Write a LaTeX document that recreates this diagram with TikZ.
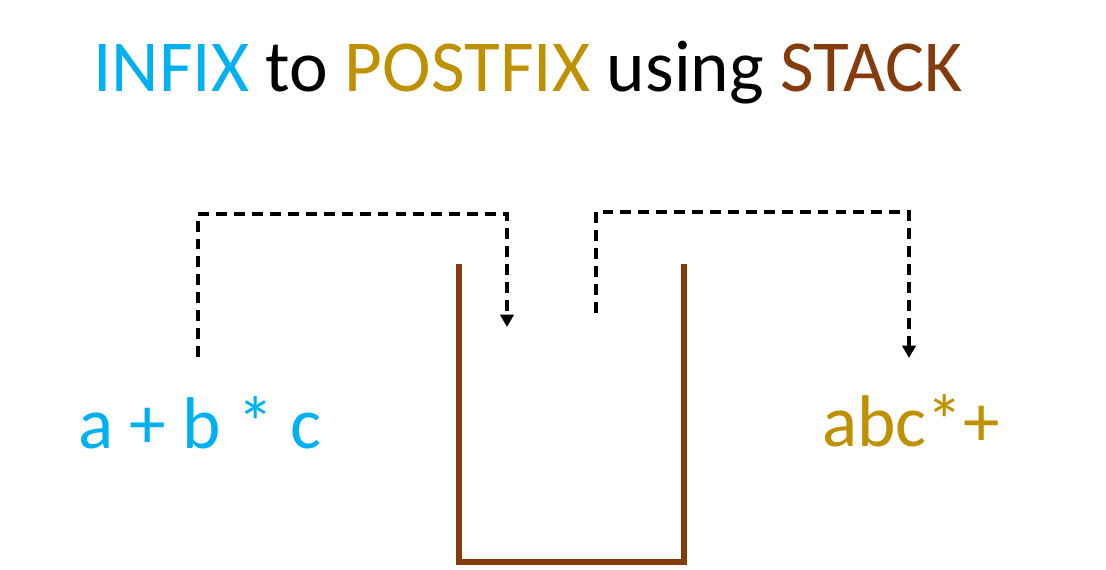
\documentclass[tikz,border=0pt]{standalone}
\usepackage{fontspec}
\setmainfont{Carlito}
\usepackage{xcolor}
\usetikzlibrary{positioning,arrows.meta}
\definecolor{infixblue}{HTML}{00B0F0}
\definecolor{postgold}{HTML}{BF9000}
\definecolor{stackbrown}{HTML}{843C0C}

\begin{document}
\begin{tikzpicture}[
  x=0.02cm, y=-0.02cm,
  font=\fontsize{41.7pt}{50pt}\selectfont,
  txt/.style={inner sep=0pt, outer sep=0pt},
  flow/.style={
    draw=black, line width=2.1pt, dash pattern=on 6.2pt off 4pt,
    -{Triangle[length=7pt,width=7.5pt]}
  },
  wall/.style={draw=stackbrown, line width=3.4pt}
]
\useasboundingbox (0,0) rectangle (1106,570);

\node[txt, anchor=base] (title) at (528,92)
  {\textcolor{infixblue}{INFIX} to \textcolor{postgold}{POSTFIX} using \textcolor{stackbrown}{STACK}};

\node[txt, anchor=base west, text=infixblue] (infix) at (78,449) {a + b * c};
\node[txt, anchor=base west, text=postgold] (postfix) at (822,447) {abc*+};

% the stack
\coordinate (stl) at (459,264);
\coordinate (sbl) at (459,562);
\coordinate (sbr) at (684,562);
\coordinate (str) at (684,264);
\draw[wall] (stl) -- (sbl) -- (sbr) -- (str);

% push and pop
\coordinate (pushfrom) at (198,357);
\coordinate (pushto) at (507,327);
\coordinate (popfrom) at (596,313);
\coordinate (popto) at (909,358);
\draw[flow] (pushfrom) |- (353,214) -| (pushto);
\draw[flow] (popfrom) |- (750,212) -| (popto);

\end{tikzpicture}
\end{document}
